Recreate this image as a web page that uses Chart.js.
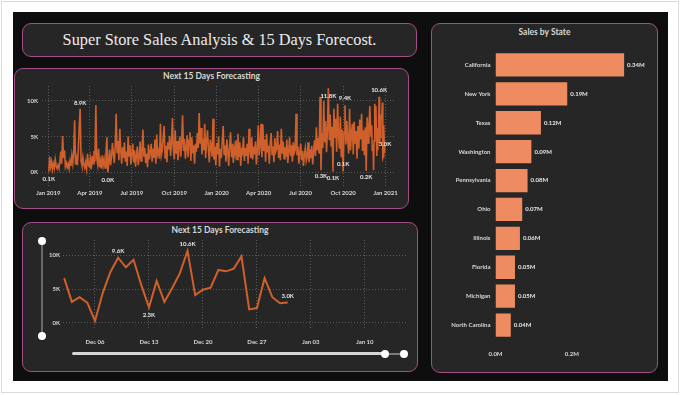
<!DOCTYPE html>
<html>
<head>
<meta charset="utf-8">
<script src="https://cdn.jsdelivr.net/npm/chart.js@4.4.1/dist/chart.umd.min.js"></script>
<style>
  html, body { margin:0; padding:0; background:#ffffff; width:680px; height:395px; overflow:hidden; }
  body { position:relative; font-family: Lato, "Open Sans", sans-serif; }
  .frame { position:absolute; left:1px; top:1px; width:678px; height:392px; border:1px solid #dcdcdc; box-sizing:border-box; }
  .bg { position:absolute; left:13px; top:12px; width:655px; height:369px; background:#0e0e0e; }
  .panel { position:absolute; background:#262626; border:1.5px solid #a24e88; border-radius:9px; box-sizing:border-box; }
  .ttl { position:absolute; color:#d8d8d8; font-family:Lato, sans-serif; font-weight:bold; font-size:8.5px; text-align:center; height:12px; line-height:12px; white-space:nowrap; }
  .main { position:absolute; left:22px; top:23px; width:395px; height:34px; line-height:33px; text-align:center; color:#ececec; font-family:"Liberation Serif", "Times New Roman", serif; font-size:16.3px; white-space:nowrap; }
  canvas { position:absolute; }
  .track { position:absolute; }
  .knob { position:absolute; width:8px; height:8px; border-radius:50%; background:#ffffff; }
</style>
</head>
<body>
<div class="frame"></div>
<div class="bg"></div>

<div class="panel" style="left:22px;top:23px;width:395px;height:34px;"></div>
<div class="main" id="mainTitle"></div>

<div class="panel" style="left:14px;top:68px;width:395px;height:141px;"></div>
<div class="ttl" id="topTitle" style="left:14px;top:70px;width:395px;"></div>
<canvas id="topChart" width="395" height="141" style="left:14px;top:68px;"></canvas>

<div class="panel" style="left:22px;top:222px;width:396px;height:150px;"></div>
<div class="ttl" id="bottomTitle" style="left:22px;top:224px;width:396px;"></div>
<canvas id="bottomChart" width="396" height="150" style="left:22px;top:222px;"></canvas>
<div class="track" style="left:41px;top:241px;width:2px;height:95px;background:#6a6a6a;"></div>
<div class="knob" style="left:38px;top:237px;"></div>
<div class="knob" style="left:38px;top:332px;"></div>
<div class="track" style="left:72px;top:352px;width:313px;height:3px;background:#d6d6d6;border-radius:2px;"></div>
<div class="track" style="left:385px;top:352.5px;width:19px;height:2px;background:#7a7a7a;"></div>
<div class="knob" style="left:381px;top:349.5px;"></div>
<div class="knob" style="left:400px;top:349.5px;"></div>

<div class="panel" style="left:431px;top:23px;width:227px;height:350px;"></div>
<div class="ttl" id="stateTitle" style="left:431px;top:26px;width:227px;"></div>
<canvas id="stateChart" width="227" height="350" style="left:431px;top:23px;"></canvas>

<script>
// ---------------- DATA ----------------
const mainTitleText = 'Super Store Sales Analysis & 15 Days Forecost.';
const trendTitleText = 'Next 15 Days Forecasting';
const stateTitleText = 'Sales by State';

// Sales (K) on every second day, 2 Jan 2019 (day 1) .. 30 Nov 2020 (day 699)
const twoDaySalesK = [
  0.1, 2.2, 0.8, 1.5, 0.4, 1.2, 0.6, 1.8, 0.9, 0.5,
  1.0, 0.6, 1.4, 2.9, 1.2, 5.1, 2.0, 3.1, 0.8, 1.3,
  0.7, 1.2, 0.5, 1.6, 0.9, 2.4, 1.3, 2.8, 7.3, 1.1,
  2.0, 1.0, 3.2, 6.4, 8.9, 1.5, 0.9, 2.1, 1.0, 0.6,
  1.4, 0.5, 2.6, 1.0, 0.8, 1.9, 0.4, 2.3, 1.2, 3.0,
  1.5, 9.4, 2.0, 1.1, 3.3, 0.7, 1.6, 0.5, 2.4, 1.0,
  1.8, 0.6, 2.7, 4.9, 0.0, 1.4, 3.2, 1.0, 2.2, 4.1,
  2.5, 1.3, 3.6, 8.2, 2.8, 4.4, 1.7, 6.1, 3.0, 1.2,
  3.5, 2.0, 4.2, 1.5, 2.9, 0.9, 5.0, 2.3, 3.8, 1.1,
  2.6, 4.0, 1.4, 3.1, 0.8, 2.4, 3.6, 1.0, 2.0, 4.3,
  1.6, 2.9, 6.0, 2.2, 3.4, 1.3, 2.6, 0.7, 3.9, 1.8,
  2.8, 4.0, 1.5, 3.3, 2.0, 4.6, 1.2, 5.3, 2.5, 3.0,
  1.9, 6.8, 2.4, 3.1, 4.8, 6.5, 2.0, 3.7, 1.4, 4.2,
  3.2, 5.1, 2.3, 4.0, 7.6, 3.4, 1.8, 5.9, 2.6, 4.4,
  1.7, 3.6, 5.0, 2.2, 4.1, 8.0, 3.0, 4.7, 1.9, 3.3,
  5.2, 2.1, 4.5, 5.6, 1.6, 4.9, 2.7, 3.8, 1.2, 4.0,
  2.9, 5.5, 3.4, 8.3, 4.0, 6.2, 2.5, 4.7, 3.1, 6.8,
  2.0, 4.4, 5.9, 3.2, 1.4, 4.6, 3.5, 2.2, 7.5, 1.8,
  3.6, 1.0, 4.1, 2.5, 5.0, 0.8, 3.3, 2.0, 4.4, 6.5,
  2.4, 3.8, 1.5, 4.6, 2.9, 0.9, 3.7, 5.6, 2.1, 4.0,
  1.3, 3.5, 2.6, 4.5, 1.8, 5.4, 2.2, 4.2, 0.9, 3.1,
  2.7, 4.9, 1.6, 3.4, 2.3, 4.0, 1.2, 6.1, 3.0, 2.0,
  4.9, 1.8, 3.6, 2.5, 4.3, 1.1, 3.2, 6.6, 2.4, 3.9,
  6.8, 2.1, 6.7, 3.0, 4.6, 1.5, 5.4, 2.8, 3.7, 1.2,
  4.1, 5.5, 2.4, 3.6, 1.4, 4.8, 2.9, 3.3, 5.8, 2.0,
  3.9, 1.7, 6.1, 2.6, 4.3, 1.9, 3.5, 2.2, 4.6, 1.3,
  3.0, 4.9, 2.3, 3.8, 1.5, 4.2, 2.7, 3.1, 8.2, 2.4,
  3.6, 1.2, 2.8, 4.0, 1.7, 3.0, 0.9, 2.5, 3.4, 1.6,
  2.2, 4.2, 1.4, 3.2, 2.0, 3.7, 1.1, 2.9, 4.5, 2.3,
  6.3, 3.1, 4.8, 2.6, 10.6, 0.3, 5.5, 3.4, 10.0, 4.2,
  7.2, 2.8, 5.9, 11.8, 4.5, 8.1, 3.6, 6.4, 0.1, 8.9,
  4.8, 7.5, 2.9, 9.6, 5.2, 3.3, 7.8, 2.1, 6.0, 0.1,
  5.6, 9.4, 3.9, 7.2, 4.4, 2.6, 8.9, 3.1, 5.4, 6.8,
  2.5, 7.1, 4.0, 5.8, 1.9, 6.5, 3.3, 7.4, 4.6, 8.2,
  3.0, 5.9, 2.4, 6.3, 0.2, 7.7, 4.1, 6.6, 9.3, 5.0
];
const twoDayFirstDay = 1;      // day offsets counted from 1 Jan 2019
// Daily sales (K), 2 Dec 2020 (day 701) .. 31 Dec 2020 (day 730)
const decemberSalesK = [
  6.6, 3.1, 3.8, 3.0, 0.3, 4.4, 7.5, 9.6, 8.2, 9.3,
  5.6, 2.3, 6.2, 3.1, 5.1, 7.3, 10.6, 4.1, 4.9, 5.2,
  7.8, 7.6, 8.0, 9.8, 2.0, 2.2, 6.6, 3.8, 2.9, 3.0
];
const decemberFirstDay = 701;

const quarterTickDays = [0, 90, 181, 273, 365, 456, 547, 639, 731];
const quarterTickLabels = ['Jan 2019','Apr 2019','Jul 2019','Oct 2019','Jan 2020','Apr 2020','Jul 2020','Oct 2020','Jan 2021'];
const weekTickDays = [705, 712, 719, 726, 733, 740];
const weekTickLabels = ['Dec 06','Dec 13','Dec 20','Dec 27','Jan 03','Jan 10'];
const salesTicksK = [0, 5, 10];

const topLabelDays = [1, 69, 129, 591, 607, 617, 639, 643, 689, 717, 730];
const bottomLabelDays = [708, 712, 717, 730];

const states = ['California','New York','Texas','Washington','Pennsylvania','Ohio','Illinois','Florida','Michigan','North Carolina'];
const stateSalesM = [0.337, 0.188, 0.119, 0.094, 0.084, 0.070, 0.064, 0.051, 0.051, 0.040];
const stateTicksM = [0, 0.2];

// ---------------- STYLE ----------------
const LINE = '#d0602b';
const BAR = '#ee8b61';
const TICK = '#d6d6d6';
const GRID = '#5a5a5a';
const tickFont = { family: 'Lato', size: 6, weight: 'bold' };

document.getElementById('mainTitle').textContent = mainTitleText;
document.getElementById('topTitle').textContent = trendTitleText;
document.getElementById('bottomTitle').textContent = trendTitleText;
document.getElementById('stateTitle').textContent = stateTitleText;

const topPoints = twoDaySalesK.map((v, i) => ({ x: twoDayFirstDay + 2 * i, y: v }))
  .concat(decemberSalesK.map((v, i) => ({ x: decemberFirstDay + i, y: v })));
const decPoints = decemberSalesK.map((v, i) => ({ x: decemberFirstDay + i, y: v }));

const pointLabels = {
  id: 'pointLabels',
  afterDatasetsDraw(chart, args, opts) {
    const items = opts.days || [];
    const offs = opts.offsets || [];
    const data = chart.data.datasets[0].data;
    const xs = chart.scales.x, ys = chart.scales.y;
    const ctx = chart.ctx;
    ctx.save();
    ctx.font = 'bold 6px Lato';
    ctx.fillStyle = '#e6e6e6';
    ctx.textAlign = 'center';
    ctx.textBaseline = 'middle';
    items.forEach((d, k) => {
      const p = data.find(q => q.x === d);
      if (!p) return;
      ctx.fillText(p.y.toFixed(1) + 'K', xs.getPixelForValue(p.x), ys.getPixelForValue(p.y) + (offs[k] || 0));
    });
    ctx.restore();
  }
};

const barLabels = {
  id: 'barLabels',
  afterDatasetsDraw(chart) {
    const ctx = chart.ctx;
    const meta = chart.getDatasetMeta(0);
    const vals = chart.data.datasets[0].data;
    ctx.save();
    ctx.font = 'bold 6px Lato';
    ctx.fillStyle = '#e6e6e6';
    ctx.textAlign = 'left';
    ctx.textBaseline = 'middle';
    meta.data.forEach((bar, i) => {
      ctx.fillText(vals[i].toFixed(2) + 'M', bar.x + 3, bar.y);
    });
    ctx.restore();
  }
};

const base = {
  responsive: false,
  animation: false,
  devicePixelRatio: 1,
  events: [],
};

function lineScales(xMin, xMax, tickDays, tickLabels, yMin, yMax, yWidth, xHeight, xPad, yPad) {
  return {
    x: {
      type: 'linear', min: xMin, max: xMax,
      afterFit: s => { s.height = xHeight; },
      afterBuildTicks: s => { s.ticks = tickDays.map(v => ({ value: v })); },
      ticks: { autoSkip: false, maxRotation: 0, padding: xPad, color: TICK, font: tickFont,
               callback: (v, i) => tickLabels[i] },
      grid: { color: GRID, lineWidth: 1, drawTicks: false },
      border: { display: false, dash: [1, 2] }
    },
    y: {
      type: 'linear', min: yMin, max: yMax,
      afterFit: s => { s.width = yWidth; },
      afterBuildTicks: s => { s.ticks = salesTicksK.map(v => ({ value: v })); },
      ticks: { padding: yPad, color: TICK, font: tickFont, callback: v => v + 'K' },
      grid: { color: GRID, lineWidth: 1, drawTicks: false },
      border: { display: false, dash: [1, 2] }
    }
  };
}

new Chart(document.getElementById('topChart'), {
  type: 'line',
  data: { datasets: [{ data: topPoints, borderColor: LINE, borderWidth: 1.6, pointRadius: 0, tension: 0, fill: false }] },
  options: Object.assign({}, base, {
    layout: { padding: { left: 0, right: 13, top: 18, bottom: 0 } },
    scales: lineScales(-13.7, 753.6, quarterTickDays, quarterTickLabels, -1.92, 12.1, 28, 23, 3, 4),
    plugins: { legend: { display: false }, tooltip: { enabled: false },
      pointLabels: { days: topLabelDays, offsets: [7, -6, 8, 6, 8, 6, -8, -7, 6, -7, -7] } }
  }),
  plugins: [pointLabels]
});

new Chart(document.getElementById('bottomChart'), {
  type: 'line',
  data: { datasets: [{ data: decPoints, borderColor: LINE, borderWidth: 2, pointRadius: 0, tension: 0, fill: false }] },
  options: Object.assign({}, base, {
    layout: { padding: { left: 0, right: 10, top: 18, bottom: 0 } },
    scales: lineScales(700.85, 745.6, weekTickDays, weekTickLabels, -1.03, 12.21, 41, 42, 8, 3),
    plugins: { legend: { display: false }, tooltip: { enabled: false },
      pointLabels: { days: bottomLabelDays, offsets: [-7, 8, -7, -7] } }
  }),
  plugins: [pointLabels]
});

new Chart(document.getElementById('stateChart'), {
  type: 'bar',
  data: { labels: states, datasets: [{ data: stateSalesM, backgroundColor: BAR, borderWidth: 0,
          categoryPercentage: 1, barPercentage: 0.806 }] },
  options: Object.assign({}, base, {
    indexAxis: 'y',
    layout: { padding: { left: 0, right: 18, top: 27.5, bottom: 0 } },
    scales: {
      x: { type: 'linear', min: 0, max: 0.3786,
           afterFit: s => { s.height = 33.5; },
           afterBuildTicks: s => { s.ticks = stateTicksM.map(v => ({ value: v })); },
           ticks: { padding: 11, color: TICK, font: tickFont, callback: v => v.toFixed(1) + 'M' },
           grid: { display: false, drawTicks: false }, border: { display: false } },
      y: { afterFit: s => { s.width = 64.5; },
           ticks: { padding: 5, color: TICK, font: tickFont, autoSkip: false },
           grid: { display: false, drawTicks: false }, border: { display: false } }
    },
    plugins: { legend: { display: false }, tooltip: { enabled: false } }
  }),
  plugins: [barLabels]
});
</script>
</body>
</html>
